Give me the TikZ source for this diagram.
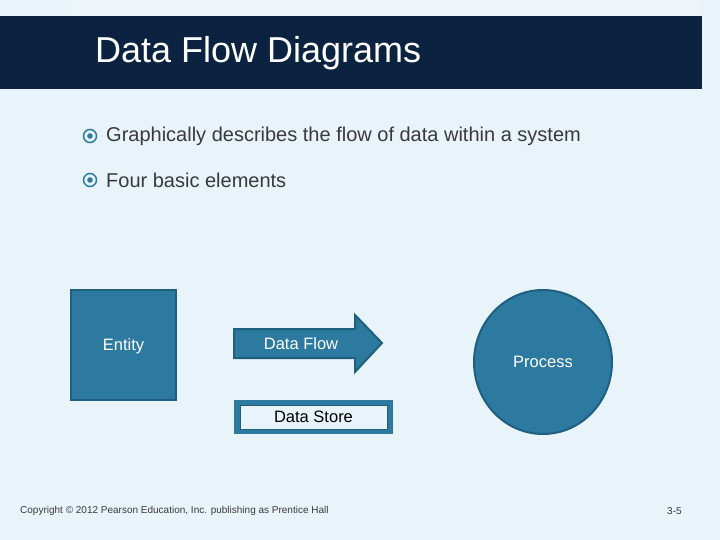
\documentclass[tikz,border=0pt]{standalone}
\usepackage{fontspec}
\setmainfont{Liberation Sans}
\usetikzlibrary{shapes.geometric}
\definecolor{bg}{HTML}{E8F4FA}
\definecolor{bgtop}{HTML}{EEF6FA}
\definecolor{hdr}{HTML}{0B2340}
\definecolor{shp}{HTML}{2C7A9F}
\definecolor{shpb}{HTML}{1F5F80}
\definecolor{txt}{HTML}{3A3A3A}
\definecolor{bul}{HTML}{2C7A9F}
\tikzset{
  lbl/.style={text=white,font=\fontsize{16.5pt}{18pt}\selectfont},
  bullettext/.style={anchor=west,text=txt,font=\fontsize{20pt}{22pt}\selectfont,inner sep=0},
  shapebox/.style={fill=shp,draw=shpb,line width=2pt},
}
\begin{document}
\begin{tikzpicture}[x=1pt,y=-1pt]
\useasboundingbox (0,0) rectangle (720,540);
\fill[bg] (0,0) rectangle (720,540);
\fill[bgtop] (72,0) rectangle (700,16);
\fill[hdr] (0,16) rectangle (702,89);
\node[anchor=west,text=white,font=\fontsize{36pt}{40pt}\selectfont,inner sep=0] (title) at (95,53) {Data Flow Diagrams};
\foreach \y/\n in {136/b1,180/b2}{
  \draw[bul,line width=1.5pt] (90,\y) circle (6.5);
  \fill[bul] (90,\y) circle (2.8);
}
\node[bullettext] (t1) at (106,136) {Graphically describes the flow of data within a system};
\node[bullettext] (t2) at (106,180) {Four basic elements};
\node[shapebox,minimum width=105,minimum height=110,inner sep=0] (entity) at (123.5,345) {};
\node[lbl] at (123.5,346) {Entity};
\draw[shapebox] (234,329) -- (355,329) -- (355,315) -- (382,343) -- (355,372) -- (355,358) -- (234,358) -- cycle;
\node[lbl] (flow) at (301,344) {Data Flow};
\node[fill=shp,minimum width=159,minimum height=34,inner sep=0] (store) at (313.5,417) {};
\node[fill=bg,draw=shpb,line width=1pt,minimum width=147,minimum height=24,inner sep=0,font=\fontsize{16.5pt}{18pt}\selectfont] (storein) at (313.5,417) {Data Store};
\node[ellipse,shapebox,minimum width=138,minimum height=144,inner sep=0] (proc) at (543,362) {};
\node[lbl] at (543,362) {Process};
\node[anchor=west,text=txt,font=\fontsize{10pt}{11pt}\selectfont,inner sep=0] (copy) at (20,511) {Copyright © 2012 Pearson Education, Inc. publishing as Prentice Hall};
\node[anchor=west,text=txt,font=\fontsize{10pt}{11pt}\selectfont,inner sep=0] (pg) at (667,511) {3-5};
\end{tikzpicture}
\end{document}
